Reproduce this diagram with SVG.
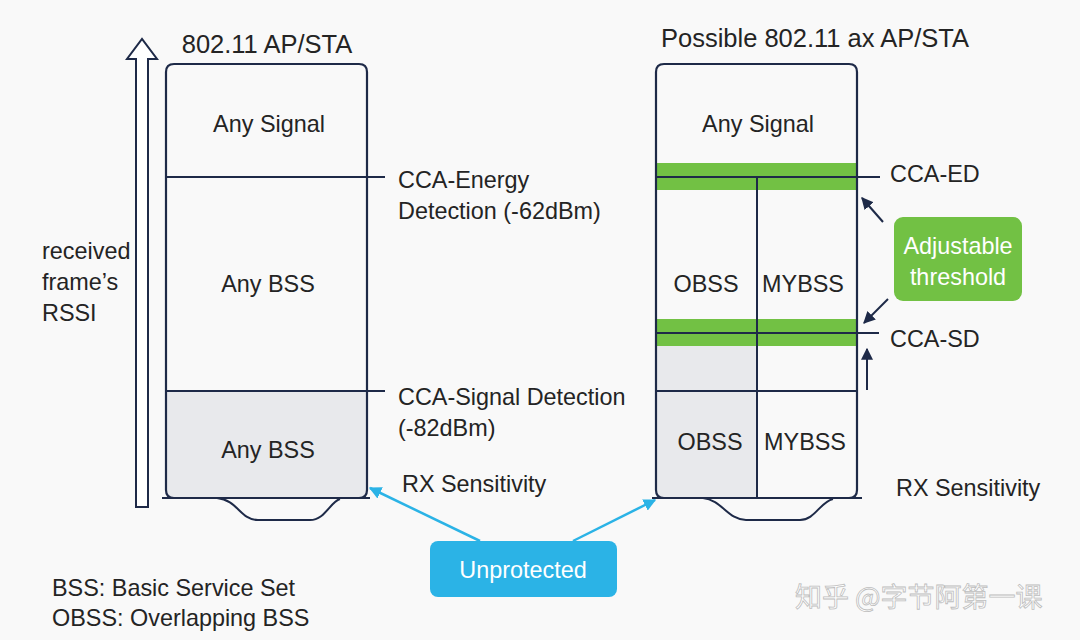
<svg xmlns="http://www.w3.org/2000/svg" width="1080" height="640" viewBox="0 0 1080 640">
<defs>
<style>
.t{font-family:"Liberation Sans",Arial,sans-serif;font-size:23.4px;fill:#242424;dominant-baseline:central}
.m{text-anchor:middle}
.w{fill:#ffffff}
.ln{stroke:#1e2a48;stroke-width:2;fill:none}
.box{stroke:#1e2a48;stroke-width:2.2}
</style>
<marker id="ah" viewBox="0 0 10 10" refX="9" refY="5" markerWidth="6" markerHeight="6" orient="auto">
<path d="M0,0 L10,5 L0,10 z" fill="#1e2a48"/>
</marker>
<marker id="ahc" viewBox="0 0 10 10" refX="9" refY="5" markerWidth="5" markerHeight="5" orient="auto">
<path d="M0,0 L10,5 L0,10 z" fill="#2bb3e6"/>
</marker>
</defs>
<rect width="1080" height="640" fill="#f9f9f9"/>

<g id="rssi-axis">
<path d="M136,507 L136,59 L127,59 L142,39 L157,59 L148,59 L148,507 Z" fill="#ffffff" stroke="#1e2a48" stroke-width="2"/>
<text class="t" x="42" y="251">received</text>
<text class="t" x="42" y="282">frame’s</text>
<text class="t" x="42" y="313">RSSI</text>
</g>

<g id="left-stack">
<text class="t m" x="267" y="44" style="font-size:25.5px">802.11 AP/STA</text>
<path d="M166,391 L367,391 L367,490 Q367,498 359,498 L174,498 Q166,498 166,490 Z" fill="#e8e9ec"/>
<path d="M174,64 L359,64 Q367,64 367,72 L367,490 Q367,498 359,498 L174,498 Q166,498 166,490 L166,72 Q166,64 174,64 Z" fill="none" class="box"/>
<line class="ln" x1="166" y1="177" x2="385" y2="177"/>
<line class="ln" x1="166" y1="391" x2="385" y2="391"/>
<path class="ln" d="M162,498 L370,498 M217,498 C238,500 240,520 258,520 L310,520 C325,520 330,502 340,499"/>
<text class="t m" x="269" y="124">Any Signal</text>
<text class="t m" x="268" y="284">Any BSS</text>
<text class="t m" x="268" y="450">Any BSS</text>
<text class="t" x="398" y="180">CCA-Energy</text>
<text class="t" x="398" y="211">Detection (-62dBm)</text>
<text class="t" x="398" y="397">CCA-Signal Detection</text>
<text class="t" x="398" y="428">(-82dBm)</text>
<text class="t" x="402" y="484">RX Sensitivity</text>
</g>

<g id="right-stack">
<text class="t m" x="815" y="38" style="font-size:25.5px">Possible 802.11 ax AP/STA</text>
<rect x="656" y="346" width="101" height="152" fill="#e8e9ec"/>
<rect x="656" y="163" width="201" height="27" fill="#72c144"/>
<rect x="656" y="319" width="201" height="27" fill="#72c144"/>
<path d="M664,64 L849,64 Q857,64 857,72 L857,490 Q857,498 849,498 L664,498 Q656,498 656,490 L656,72 Q656,64 664,64 Z" fill="none" class="box"/>
<line class="ln" x1="656" y1="177" x2="880" y2="177"/>
<line class="ln" x1="656" y1="333" x2="879" y2="333"/>
<line class="ln" x1="656" y1="391" x2="857" y2="391"/>
<line class="ln" x1="757" y1="177" x2="757" y2="498"/>
<path class="ln" d="M652,498 L862,498 M703,498 C722,500 728,520 746,520 L800,520 C815,520 820,502 833,499"/>
<text class="t m" x="758" y="124">Any Signal</text>
<text class="t m" x="706" y="284">OBSS</text>
<text class="t m" x="803" y="284">MYBSS</text>
<text class="t m" x="710" y="442">OBSS</text>
<text class="t m" x="805" y="442">MYBSS</text>
<text class="t" x="890" y="174">CCA-ED</text>
<text class="t" x="890" y="339">CCA-SD</text>
<text class="t" x="896" y="488">RX Sensitivity</text>
</g>

<g id="adjustable-threshold">
<rect x="894" y="217" width="128" height="84" rx="9" fill="#72c144"/>
<text class="t m w" x="958" y="246">Adjustable</text>
<text class="t m w" x="958" y="277">threshold</text>
</g>

<g id="unprotected">
<rect x="430" y="541" width="187" height="56" rx="8" fill="#2bb3e6"/>
<text class="t m w" x="523" y="570">Unprotected</text>
</g>

<g id="connectors">
<line x1="883" y1="222" x2="862" y2="198" stroke="#1e2a48" stroke-width="2" marker-end="url(#ah)"/>
<line x1="888" y1="299" x2="864" y2="323" stroke="#1e2a48" stroke-width="2" marker-end="url(#ah)"/>
<line x1="867" y1="390" x2="867" y2="349" stroke="#1e2a48" stroke-width="2" marker-end="url(#ah)"/>
<line x1="480" y1="541" x2="370" y2="488" stroke="#2bb3e6" stroke-width="2.5" marker-end="url(#ahc)"/>
<line x1="573" y1="541" x2="655" y2="500" stroke="#2bb3e6" stroke-width="2.5" marker-end="url(#ahc)"/>
</g>

<g id="legend">
<text class="t" x="52" y="588">BSS: Basic Service Set</text>
<text class="t" x="52" y="618">OBSS: Overlapping BSS</text>
</g>

<g id="watermark">
<text x="795" y="607" style="font-family:'Noto Sans CJK SC',sans-serif;font-size:27px;fill:#ffffff;stroke:#bdbdbd;stroke-width:0.8">知乎 @字节阿第一课</text>
</g>
</svg>
